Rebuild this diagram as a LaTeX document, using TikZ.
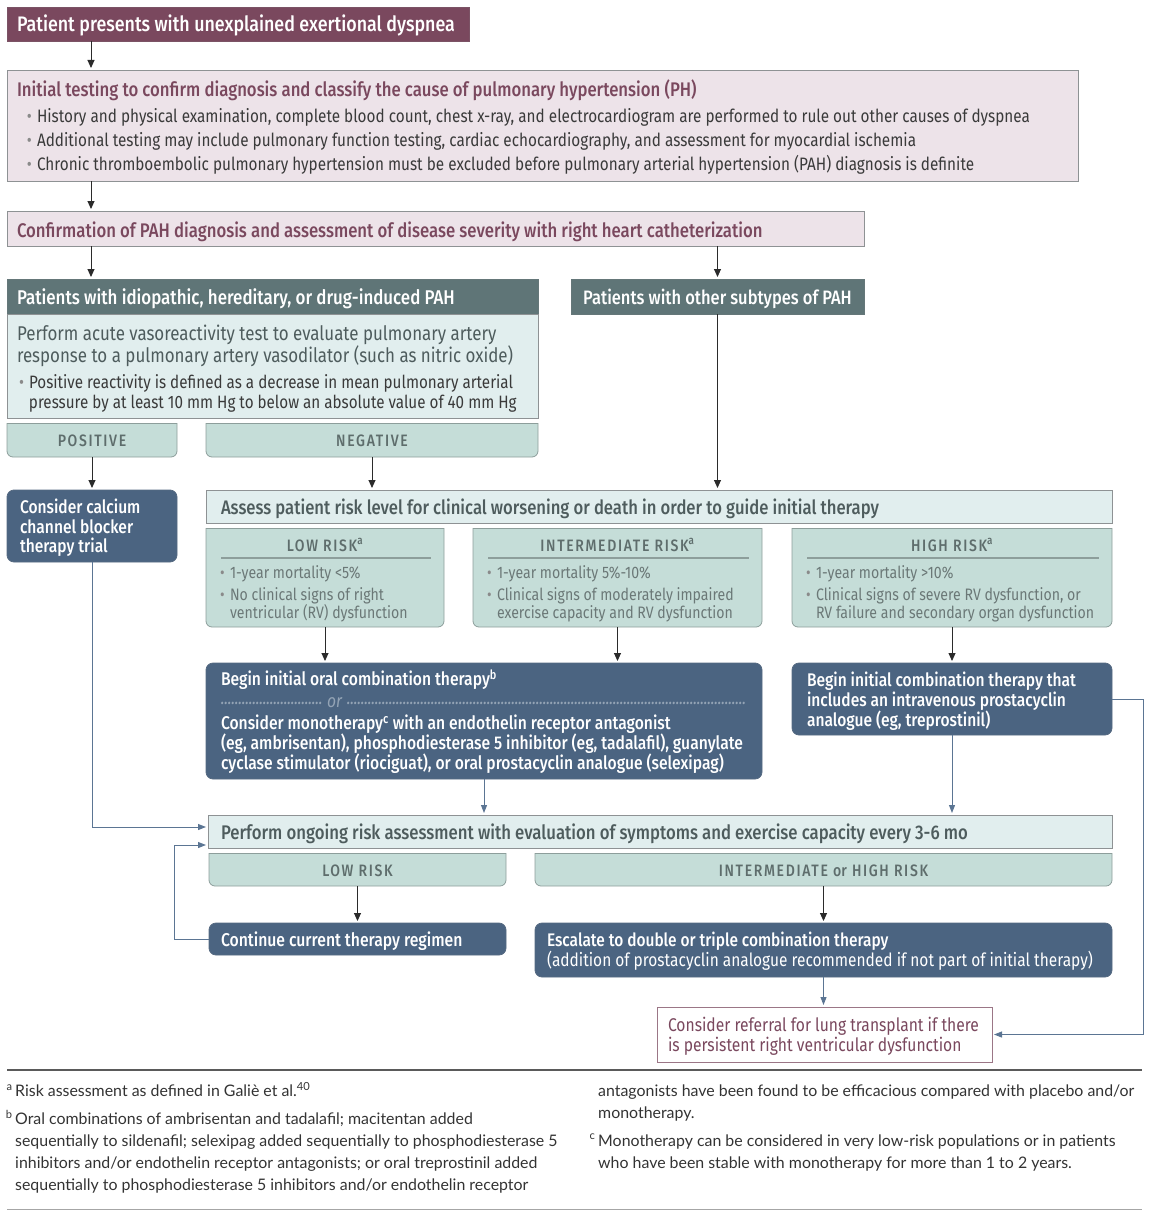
\documentclass[tikz,border=0pt]{standalone}
\usepackage{fontspec}
\setmainfont{Fira Sans}[FakeStretch=0.85,BoldFont={Fira Sans Medium}]
\newfontfamily\notefont{Lato}
\usetikzlibrary{positioning,backgrounds,arrows.meta}

\definecolor{mauve}{HTML}{7A485E}
\definecolor{pinkfill}{HTML}{EDE3E9}
\definecolor{slate}{HTML}{5F7577}
\definecolor{lightmint}{HTML}{E1EEEE}
\definecolor{mint}{HTML}{C5DDD8}
\definecolor{navy}{HTML}{4B6481}
\definecolor{arrowblue}{HTML}{5B7593}
\definecolor{arrowblack}{HTML}{2B2B2B}
\definecolor{boxline}{HTML}{8E9294}
\definecolor{tabline}{HTML}{8D9E9B}
\definecolor{tabtext}{HTML}{5E6D6C}
\definecolor{darktext}{HTML}{3A3A3A}
\definecolor{slatetext}{HTML}{4E5C5D}
\definecolor{risktext}{HTML}{6B7877}
\definecolor{dotgray}{HTML}{8A8A8A}
\definecolor{orline}{HTML}{93A3B5}
\definecolor{rulegray}{HTML}{5A5A5A}
\definecolor{notetext}{HTML}{333333}

\newcommand\fz[2]{\fontsize{#1}{#2}\selectfont}
\newcommand\nl{\hfil\break}
% bullet item, wrapped lines kept under the text
\newcommand\itm[2][0pt]{\par\noindent\hspace*{#1}\makebox[10pt][l]{\textcolor{dotgray}{•}}%
  \parbox[t]{\dimexpr\linewidth-#1\relax}{\raggedright#2}\par}
% heading of a risk box
\newcommand\riskhead[1]{{\centering\fz{16.5}{18}\bfseries\addfontfeature{LetterSpace=10}\color{tabtext}#1\textsuperscript{a}\par}\vspace{9pt}\fz{16.6}{18}}
% tab with rounded bottom corners, drawn behind a node
\newcommand\tabshape[1]{%
  \begin{pgfonlayer}{background}
    \filldraw[fill=mint,draw=tabline,line width=0.8pt,rounded corners=6pt]
      (#1.north west) -- (#1.south west) -- (#1.south east) -- (#1.north east);
    \draw[tabline,line width=0.8pt] (#1.north west) -- (#1.north east);
  \end{pgfonlayer}}
% rule under a risk heading
\newcommand\riskrule[1]{\draw[tabline,line width=1.4pt]
  ([xshift=15pt,yshift=-30pt]#1.north west) -- ([xshift=-13pt,yshift=-30pt]#1.north east);}

\tikzset{
  tbox/.style 2 args={text height=#1pt, text depth=#2pt},
  plainbox/.style={anchor=north west, inner xsep=10pt, inner ysep=0pt, outer sep=0pt,
    align=flush left, line width=0.8pt},
  pinkbox/.style={plainbox, fill=pinkfill, draw=boxline},
  headbox/.style={plainbox, fill=slate, draw=slate!80!gray, text=white,
    font=\fz{19.9}{22}\bfseries},
  mintbox/.style={plainbox, fill=lightmint, draw=boxline},
  navybox/.style={plainbox, fill=navy, draw=navy!80!gray, text=white,
    rounded corners=7pt, inner xsep=13pt},
  tabbox/.style={anchor=north west, inner sep=0pt, outer sep=0pt, align=center,
    text=tabtext, font=\fz{16.5}{18}\bfseries\addfontfeature{LetterSpace=10}},
  riskbox/.style={anchor=north west, inner xsep=14pt, inner ysep=0pt, outer sep=0pt,
    align=flush left, text=risktext, tbox={23}{76}},
  arr/.style={-{Triangle[length=8pt,width=7pt]}, line width=0.9pt, draw=arrowblack,
    shorten >=2pt},
  barr/.style={-{Triangle[length=8pt,width=6pt]}, line width=1pt, draw=arrowblue,
    shorten >=2pt},
  note/.style={anchor=north west, inner sep=0pt, align=left, text=notetext,
    font=\notefont\fz{15.9}{22}}
}

\begin{document}
\begin{tikzpicture}[x=1pt,y=-1pt]
  \useasboundingbox (0,0) rectangle (1170,1212);

  \node[plainbox, fill=mauve, draw=mauve!80!gray, text=white, text width=442pt,
    tbox={24.6}{9.4}, font=\fz{21}{24}\bfseries] (present) at (7,7)
    {Patient presents with unexplained exertional dyspnea};

  \node[pinkbox, text width=1051pt, tbox={26.1}{84.9}] (init) at (7,70) {%
    {\color{mauve}\fz{19.7}{22}\bfseries Initial testing to confirm diagnosis and classify the cause of pulmonary hypertension (PH)\par}
    \vspace{2pt}\fz{18}{24}\color{darktext}%
    \itm[10pt]{History and physical examination, complete blood count, chest x-ray, and electrocardiogram are performed to rule out other causes of dyspnea}
    \itm[10pt]{Additional testing may include pulmonary function testing, cardiac echocardiography, and assessment for myocardial ischemia}
    \itm[10pt]{Chronic thromboembolic pulmonary hypertension must be excluded before pulmonary arterial hypertension (PAH) diagnosis is definite}};

  \node[pinkbox, text width=837pt, tbox={26.1}{8.9}, text=mauve,
    font=\fz{19.7}{22}\bfseries] (confirm) at (7,211)
    {Confirmation of PAH diagnosis and assessment of disease severity with right heart catheterization};

  \node[headbox, text width=511pt, tbox={25.2}{9.8}] (idiohead) at (7,279)
    {Patients with idiopathic, hereditary, or drug-induced PAH};
  \node[mintbox, text width=511pt, tbox={26.2}{77.8}] (idiobody) at (7,314) {%
    {\color{slatetext}\fz{19.9}{21}Perform acute vasoreactivity test to evaluate pulmonary artery\nl response to a pulmonary artery vasodilator (such as nitric oxide)\par}
    \vspace{6pt}\fz{17.9}{20}\color{darktext}%
    \itm[2pt]{Positive reactivity is defined as a decrease in mean pulmonary arterial\nl pressure by at least 10 mm Hg to below an absolute value of 40 mm Hg}};

  \node[headbox, minimum width=293pt, tbox={25}{10}, align=center,
    font=\fz{19.4}{22}\bfseries] (other) at (571,279) {Patients with other subtypes of PAH};

  \node[tabbox, minimum width=170pt, tbox={23.7}{10.3}] (pos) at (7,423) {POSITIVE};
  \node[tabbox, minimum width=332pt, tbox={23.7}{10.3}] (neg) at (206,423) {NEGATIVE};

  \node[navybox, text width=144pt, tbox={23.6}{48.4}, font=\fz{18.3}{19.5}\bfseries]
    (ccb) at (7,490) {Consider calcium\nl channel blocker\nl therapy trial};

  \node[mintbox, inner xsep=15pt, text width=876pt, tbox={24.1}{8.9}, text=slatetext,
    font=\fz{19.6}{22}\bfseries] (assess) at (206,490)
    {Assess patient risk level for clinical worsening or death in order to guide initial therapy};

  \node[riskbox, text width=210pt] (low) at (206,528) {%
    \riskhead{LOW RISK}
    \itm{1-year mortality <5\%}\vspace{4pt}
    \itm{No clinical signs of right\nl ventricular (RV) dysfunction}};
  \node[riskbox, text width=261pt] (inter) at (473,528) {%
    \riskhead{INTERMEDIATE RISK}
    \itm{1-year mortality 5\%-10\%}\vspace{4pt}
    \itm{Clinical signs of moderately impaired\nl exercise capacity and RV dysfunction}};
  \node[riskbox, text width=292pt] (high) at (792,528) {%
    \riskhead{HIGH RISK}
    \itm{1-year mortality >10\%}\vspace{4pt}
    \itm{Clinical signs of severe RV dysfunction, or\nl RV failure and secondary organ dysfunction}};

  \node[navybox, inner xsep=15pt, text width=526pt, tbox={22.6}{93.4},
    font=\fz{18.4}{20}\bfseries] (oral) at (206,663) {%
    Begin initial oral combination therapy\textsuperscript{b}\par
    \vspace{2pt}{\color{orline}\mdseries\itshape\noindent
      \leaders\hbox to 3.5pt{\hss\raise3pt\hbox{.}\hss}\hskip 102pt\ or\
      \leaders\hbox to 3.5pt{\hss\raise3pt\hbox{.}\hss}\hskip 0pt plus 1filll\null\par}
    \vspace{2pt}Consider monotherapy\textsuperscript{c} with an endothelin receptor antagonist\nl (eg, ambrisentan), phosphodiesterase 5 inhibitor (eg, tadalafil), guanylate\nl cyclase stimulator (riociguat), or oral prostacyclin analogue (selexipag)};

  \node[navybox, inner xsep=15pt, text width=290pt, tbox={23.6}{48.4},
    font=\fz{18.3}{19.5}\bfseries] (iv) at (792,663)
    {Begin initial combination therapy that\nl includes an intravenous prostacyclin\nl analogue (eg, treprostinil)};

  \node[mintbox, inner xsep=13pt, text width=878pt, tbox={24.1}{8.9}, text=slatetext,
    font=\fz{19.7}{22}\bfseries] (ongoing) at (208,815)
    {Perform ongoing risk assessment with evaluation of symptoms and exercise capacity every 3-6 mo};

  \node[tabbox, minimum width=297pt, tbox={23.7}{9.3}] (lowtab) at (209,853) {LOW RISK};
  \node[tabbox, minimum width=577pt, tbox={23.7}{9.3}] (ihtab) at (535,853)
    {INTERMEDIATE {\addfontfeature{LetterSpace=0}or} HIGH RISK};

  \node[navybox, inner xsep=12pt, text width=273pt, tbox={23.7}{8.3},
    font=\fz{18.5}{20}\bfseries] (cont) at (209,923) {Continue current therapy regimen};
  \node[navybox, inner xsep=12pt, text width=553pt, tbox={23.6}{30.4}, font=\fz{18.2}{20}]
    (escal) at (535,923) {{\bfseries Escalate to double or triple combination therapy}\nl (addition of prostacyclin analogue recommended if not part of initial therapy)};

  \node[plainbox, fill=white, draw=mauve!75!white, text=mauve, inner xsep=11pt,
    text width=313pt, tbox={24.6}{30.4}, font=\fz{18.4}{20}] (lung) at (657,1007)
    {Consider referral for lung transplant if there\nl is persistent right ventricular dysfunction};

  \tabshape{pos}
  \tabshape{neg}
  \tabshape{low}
  \tabshape{inter}
  \tabshape{high}
  \tabshape{lowtab}
  \tabshape{ihtab}
  \riskrule{low}
  \riskrule{inter}
  \riskrule{high}

  % connectors
  \coordinate (colA) at (91,0);
  \draw[arr] (present.south -| colA) -- (init.north -| colA);
  \draw[arr] (init.south -| colA) -- (confirm.north -| colA);
  \draw[arr] (confirm.south -| colA) -- (idiohead.north -| colA);
  \draw[arr] (confirm.south -| other.north) -- (other.north);
  \draw[arr] (pos.south) -- (ccb.north);
  \draw[arr] (neg.south) -- (neg.south |- assess.north);
  \draw[arr] (other.south) -- (other.south |- assess.north);
  \draw[arr] (low.south) -- (low.south |- oral.north);
  \draw[arr] (inter.south) -- (inter.south |- oral.north);
  \draw[arr] (high.south) -- (iv.north);
  \draw[barr] (oral.south) -- (oral.south |- ongoing.north);
  \draw[barr] (iv.south) -- (iv.south |- ongoing.north);
  \draw[arr] (lowtab.south) -- (cont.north);
  \draw[arr] (ihtab.south) -- (escal.north);
  \draw[barr] (escal.south) -- (escal.south |- lung.north);
  \draw[barr] (ccb.south) |- ([yshift=4.5pt]ongoing.west);
  \draw[barr] (cont.west) -- ++(-35,0) |- ([yshift=-13.5pt]ongoing.west);
  \draw[barr] (iv.east) -- ++(31,0) |- (lung.east);

  % footnotes
  \draw[rulegray, line width=1.2pt] (7,1070) -- (1142,1070);
  \node[note] (fna) at (15,1082)
    {\llap{\textsuperscript{a}\,}Risk assessment as defined in Galiè et al.\textsuperscript{40}};
  \node[note] (fnb) at (15,1110)
    {\llap{\textsuperscript{b}\,}Oral combinations of ambrisentan and tadalafil; macitentan added\\
     sequentially to sildenafil; selexipag added sequentially to phosphodiesterase 5\\
     inhibitors and/or endothelin receptor antagonists; or oral treprostinil added\\
     sequentially to phosphodiesterase 5 inhibitors and/or endothelin receptor};
  \node[note] (fnr) at (598,1085)
    {antagonists have been found to be efficacious compared with placebo and/or\\
     monotherapy.};
  \node[note] (fnc) at (598,1134)
    {\llap{\textsuperscript{c}\,}Monotherapy can be considered in very low-risk populations or in patients\\
     who have been stable with monotherapy for more than 1 to 2 years.};
  \draw[gray!70, line width=1pt] (7,1209) -- (1142,1209);
\end{tikzpicture}
\end{document}
